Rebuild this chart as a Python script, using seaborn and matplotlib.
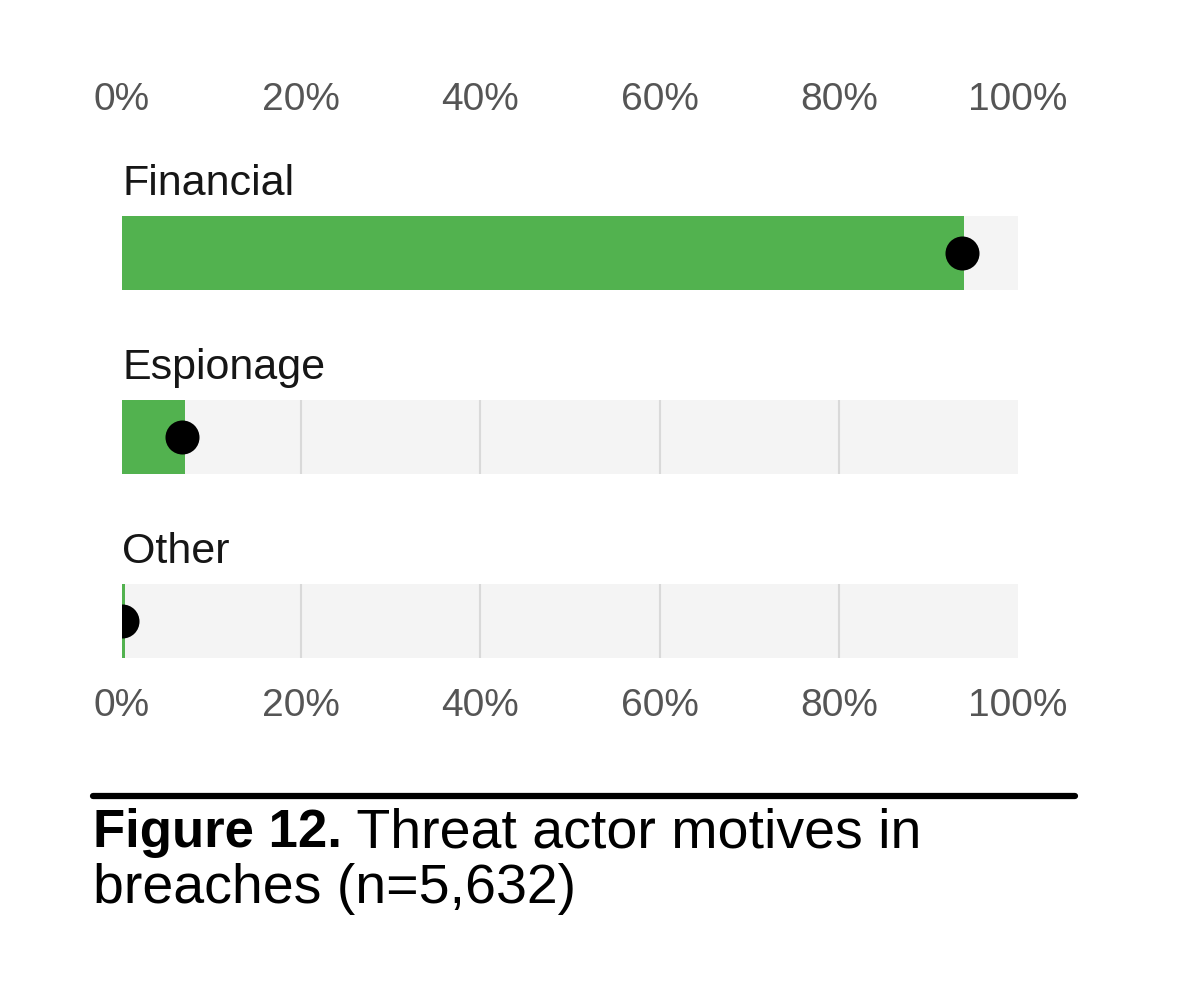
import matplotlib
matplotlib.use("Agg")
import matplotlib.pyplot as plt
from matplotlib.lines import Line2D
import seaborn as sns
import pandas as pd

# data
motives = ["Financial", "Espionage", "Other"]
bar_share = [94.0, 7.0, 0.3]
dot_share = [93.7, 6.7, 0.0]
scale_max = [100, 100, 100]
x_ticks = [0, 20, 40, 60, 80, 100]
x_ticklabels = ["0%", "20%", "40%", "60%", "80%", "100%"]
caption_bold = "Figure 12."
caption_rest = " Threat actor motives in"
caption_line2 = "breaches (n=5,632)"

GREEN = "#52b24f"
TRACK = "#f4f4f4"
GRID = "#d9d9d9"

sns.set_theme(style="white")
plt.rcParams["font.family"] = ["Liberation Sans", "DejaVu Sans"]

df = pd.DataFrame({"motive": motives, "share": bar_share,
                   "dot": dot_share, "full": scale_max})

W, H = 1200, 984
fig = plt.figure(figsize=(W / 100, H / 100), dpi=100)
ax_top, ax_bot = 135, 671
ax = fig.add_axes([122 / W, 1 - ax_bot / H, 896 / W, (ax_bot - ax_top) / H])

bar_h = 0.4
sns.barplot(data=df, x="full", y="motive", orient="h", color=TRACK,
            width=bar_h, saturation=1, linewidth=0, ax=ax)
for i in range(len(motives)):
    ax.vlines(x_ticks[1:-1], i - bar_h / 2, i + bar_h / 2, color=GRID,
              linewidth=1.5, zorder=2)
sns.barplot(data=df, x="share", y="motive", orient="h", color=GREEN,
            width=bar_h, saturation=1, linewidth=0, ax=ax, zorder=3)
sns.scatterplot(data=df, x="dot", y="motive", color="black", s=600,
                linewidth=0, ax=ax, zorder=4)

for i, name in enumerate(motives):
    ax.text(0, i - bar_h / 2 - 0.115, name, fontsize=31, color="#161616",
            ha="left", va="baseline")

# rows are 184 px apart, first bar centred at y=253 px
ax.set_xlim(0, 100)
ax.set_ylim((ax_bot - 253) / 184, -(253 - ax_top) / 184)
ax.set_xticks(x_ticks)
ax.set_xticklabels(x_ticklabels)
ax.tick_params(axis="x", top=True, labeltop=True, bottom=True,
               labelbottom=True, length=0, pad=12, labelsize=28,
               labelcolor="#555555")
ax.set_yticks([])
ax.set_xlabel("")
ax.set_ylabel("")
for s in ax.spines.values():
    s.set_visible(False)

# caption block
fig.add_artist(Line2D([93 / W, 1075 / W], [1 - 796 / H, 1 - 796 / H],
                      color="black", linewidth=4.5))
t1 = fig.text(93 / W, 1 - 847 / H, caption_bold, fontsize=38,
              fontweight="bold", color="black", va="baseline")
renderer = fig.canvas.get_renderer()
bb = t1.get_window_extent(renderer=renderer)
fig.text(bb.x1 / W, 1 - 847 / H, caption_rest, fontsize=40, color="black",
         va="baseline")
fig.text(93 / W, 1 - 903 / H, caption_line2, fontsize=40, color="black",
         va="baseline")

fig.savefig("out.png", dpi=100)
